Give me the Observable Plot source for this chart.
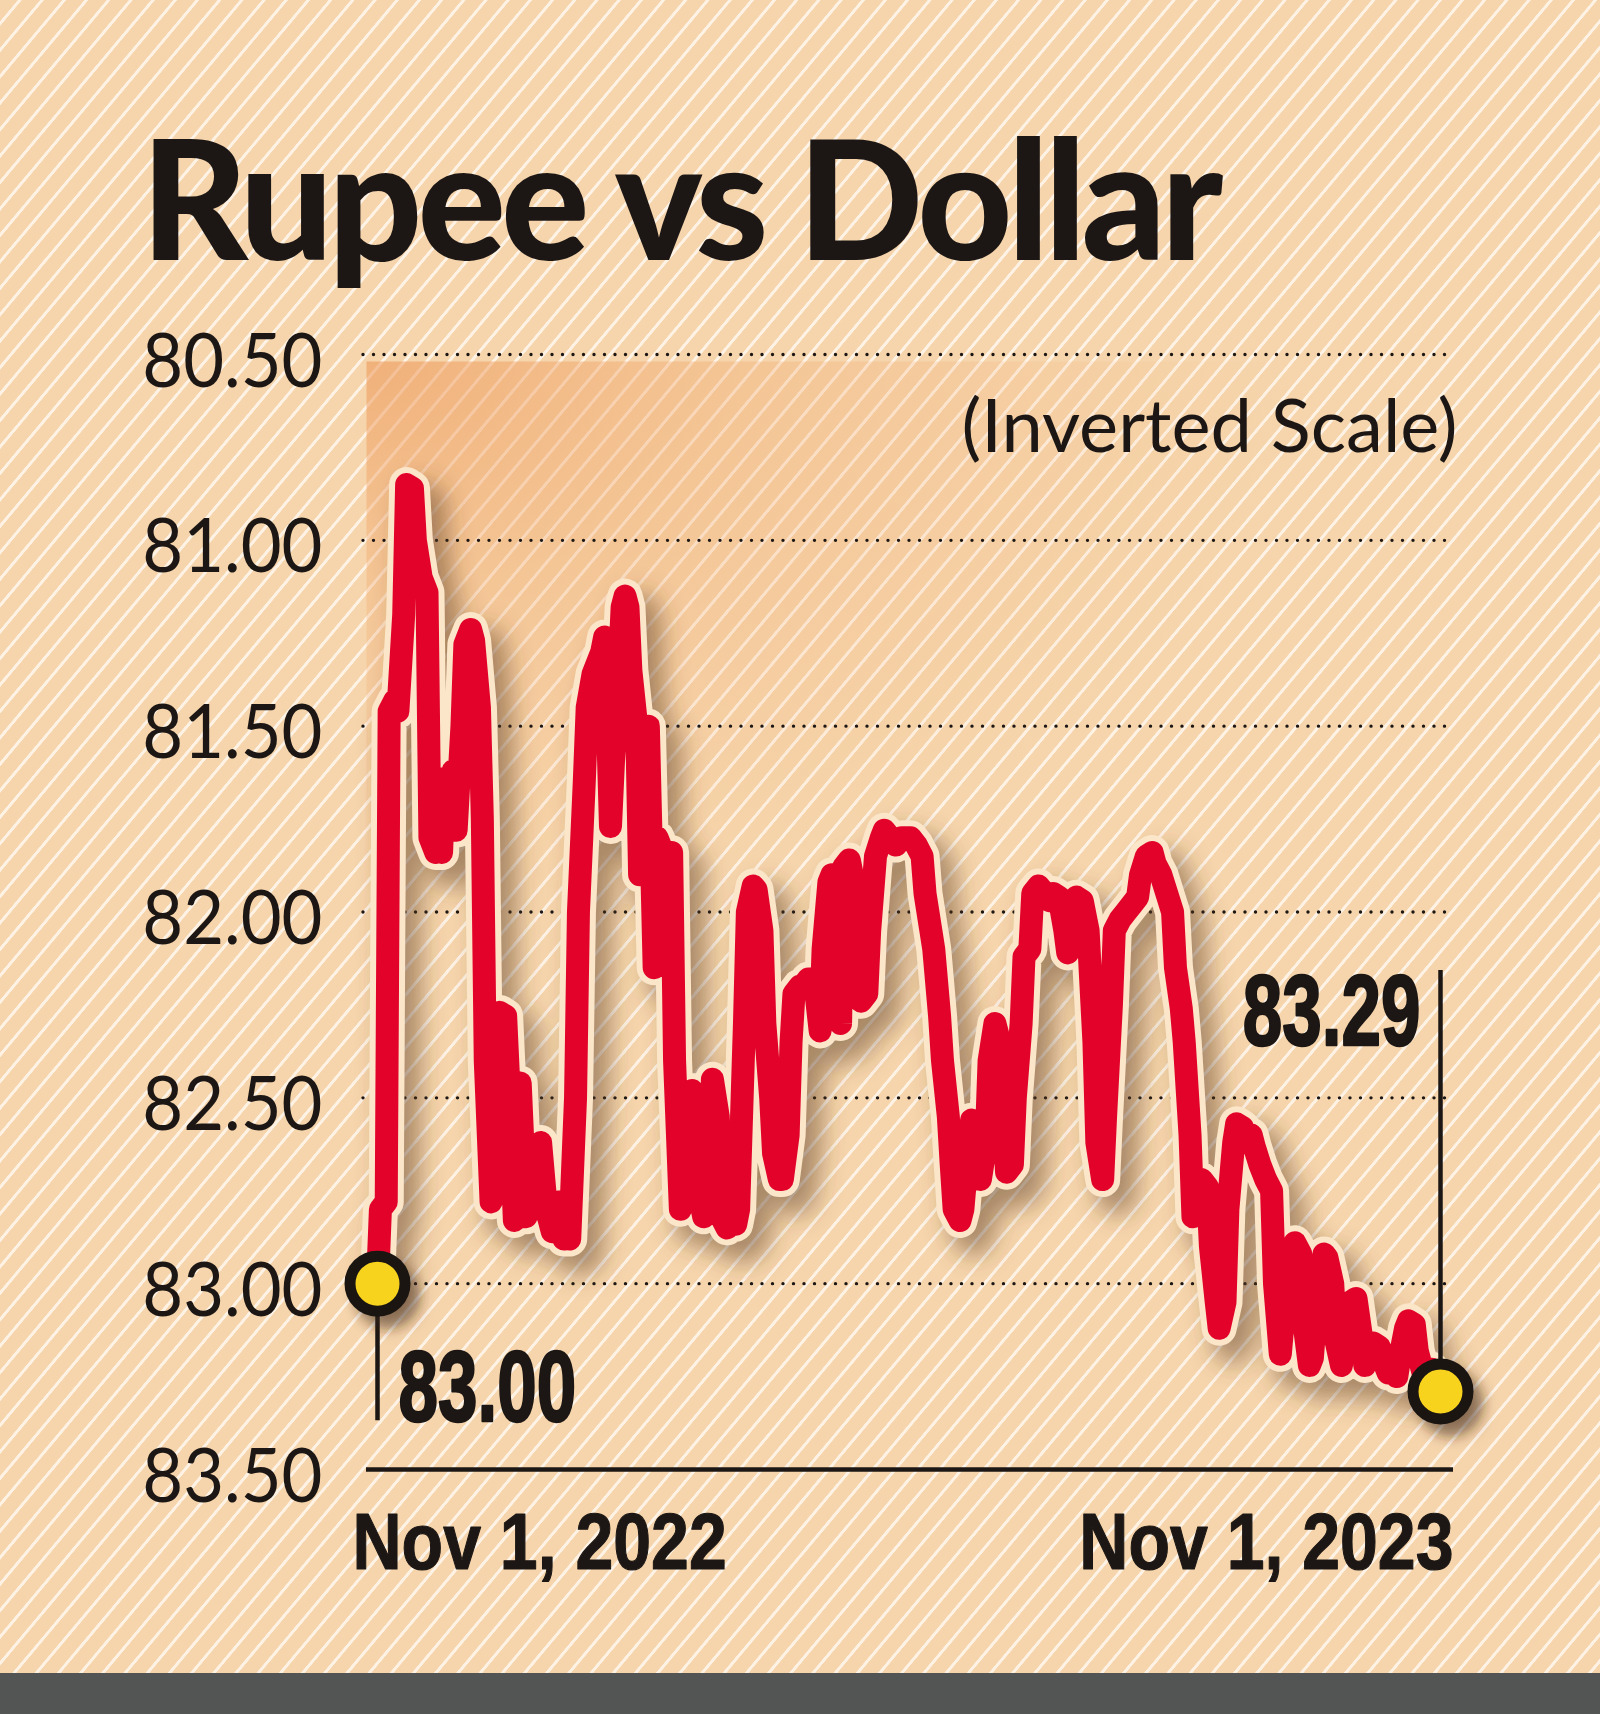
<!DOCTYPE html>
<html>
<head>
<meta charset="utf-8">
<script src="https://cdn.jsdelivr.net/npm/d3@7"></script>
<script src="https://cdn.jsdelivr.net/npm/@observablehq/plot@0.6"></script>
<style>
  html, body { margin: 0; padding: 0; }
  body {
    width: 1600px; height: 1714px; overflow: hidden; position: relative;
    background-color: #f6d5ac;
    background-image: repeating-linear-gradient(130deg,
      rgba(255,255,255,0) 0px, rgba(255,255,255,0) 13.5px,
      rgba(255,247,238,0.85) 14px, rgba(255,247,238,0.85) 16.5px,
      rgba(255,255,255,0) 17px);
  }
  #title { display: block; overflow: visible; }
  #chart svg { display: block; overflow: visible; }
  #footer { position: absolute; left: 0; top: 1673px; width: 1600px; height: 41px; background: #535554; }
</style>
</head>
<body>
<svg id="title" width="1600" height="310"></svg>
<div id="chart"></div>
<div id="footer"></div>
<script>
// USD/INR reference rate, Nov 1 2022 – Nov 1 2023 (days after Nov 1 2022)
const startDate = new Date(Date.UTC(2022, 10, 1));
const endDate = new Date(Date.UTC(2023, 10, 1));

const dayOffset = [
  0, 1, 3, 4, 6, 7, 9, 10, 12, 13,
  15, 16, 17, 18, 20, 21, 22, 23, 24, 26,
  27, 29, 30, 32, 33, 35, 36, 37, 39, 40,
  42, 44, 45, 47, 49, 51, 53, 54, 56, 58,
  60, 62, 64, 65, 66, 68, 69, 71, 72, 74,
  75, 77, 78, 79, 80, 81, 83, 84, 85, 86,
  87, 89, 90, 92, 93, 95, 96, 98, 99, 101,
  102, 104, 105, 106, 108, 109, 111, 112, 114, 115,
  117, 118, 120, 121, 123, 124, 126, 127, 129, 130,
  132, 133, 135, 136, 138, 139, 141, 142, 143, 145,
  146, 148, 150, 152, 153, 155, 156, 158, 159, 160,
  162, 163, 165, 166, 168, 169, 171, 173, 174, 176,
  178, 180, 183, 185, 187, 188, 190, 191, 193, 194,
  196, 197, 198, 200, 201, 203, 204, 206, 207, 209,
  210, 212, 213, 215, 216, 218, 219, 221, 222, 224,
  225, 227, 229, 231, 232, 234, 236, 237, 239, 240,
  242, 244, 246, 247, 249, 250, 252, 253, 255, 257,
  259, 261, 262, 264, 266, 267, 269, 271, 273, 274,
  276, 277, 279, 280, 282, 283, 285, 286, 288, 289,
  291, 292, 294, 295, 297, 298, 300, 301, 303, 305,
  307, 308, 310, 311, 313, 315, 317, 318, 320, 321,
  323, 325, 326, 328, 329, 331, 332, 334, 336, 338,
  339, 341, 342, 344, 346, 347, 348, 350, 351, 353,
  354, 356, 357, 359, 360, 362, 363, 365
];

const usdInr = [
  83.00, 82.80, 82.78, 81.46, 81.43, 81.46, 81.20, 80.85, 80.86, 81.00,
  81.10, 81.12, 81.14, 81.80, 81.84, 81.66, 81.84, 81.64, 81.68, 81.62,
  81.78, 81.50, 81.28, 81.24, 81.27, 81.45, 81.75, 82.40, 82.78, 82.50,
  82.27, 82.28, 82.45, 82.83, 82.46, 82.82, 82.64, 82.80, 82.62, 82.80,
  82.86, 82.78, 82.88, 82.85, 82.88, 82.50, 82.00, 81.65, 81.45, 81.36,
  81.34, 81.30, 81.26, 81.50, 81.77, 81.60, 81.35, 81.18, 81.15, 81.18,
  81.35, 81.50, 81.90, 81.52, 81.50, 82.15, 81.80, 81.84, 81.85, 81.84,
  82.40, 82.80, 82.78, 82.55, 82.48, 82.60, 82.78, 82.82, 82.75, 82.45,
  82.55, 82.82, 82.85, 82.80, 82.84, 82.80, 82.30, 82.00, 81.93, 81.94,
  82.05, 82.30, 82.50, 82.65, 82.72, 82.72, 82.60, 82.35, 82.22, 82.20,
  82.20, 82.18, 82.18, 82.32, 82.10, 81.92, 81.90, 81.94, 82.30, 81.88,
  81.86, 81.90, 82.00, 82.24, 82.22, 82.05, 81.85, 81.80, 81.78, 81.80,
  81.82, 81.80, 81.80, 81.82, 81.85, 81.95, 82.05, 82.10, 82.28, 82.40,
  82.55, 82.68, 82.80, 82.83, 82.80, 82.62, 82.56, 82.60, 82.72, 82.62,
  82.40, 82.30, 82.33, 82.55, 82.70, 82.68, 82.50, 82.30, 82.12, 82.10,
  81.95, 81.93, 81.95, 81.97, 81.95, 81.96, 82.05, 82.11, 82.00, 81.96,
  81.97, 82.05, 82.35, 82.62, 82.72, 82.55, 82.25, 82.05, 82.02, 82.00,
  81.98, 81.96, 81.90, 81.85, 81.84, 81.87, 81.90, 81.95, 82.00, 82.15,
  82.26, 82.35, 82.60, 82.82, 82.74, 82.72, 82.74, 82.90, 83.05, 83.12,
  83.05, 82.80, 82.62, 82.57, 82.58, 82.62, 82.60, 82.63, 82.68, 82.72,
  82.75, 83.00, 83.19, 83.10, 82.92, 82.89, 82.92, 83.10, 83.22, 83.20,
  83.00, 82.92, 82.93, 83.00, 83.15, 83.22, 83.12, 83.05, 83.04, 83.15,
  83.22, 83.18, 83.16, 83.17, 83.22, 83.24, 83.22, 83.25, 83.20, 83.12,
  83.10, 83.11, 83.18, 83.24, 83.25, 83.23, 83.26, 83.29
];

const yTicks = [80.5, 81, 81.5, 82, 82.5, 83];
const axisValue = 83.5;
const dateLabels = ["Nov 1, 2022", "Nov 1, 2023"];
const endpointValues = [83.00, 83.29];
const endpointLabels = ["83.00", "83.29"];
const scaleNote = "(Inverted Scale)";
const titleText = "Rupee vs Dollar";

const series = dayOffset.map((d, i) => ({date: d3.utcDay.offset(startDate, d), rate: usdInr[i]}));
const endpoints = [
  {date: startDate, rate: endpointValues[0], label: endpointLabels[0]},
  {date: endDate, rate: endpointValues[1], label: endpointLabels[1]}
];

const ink = "#1c1714";
const W = 1600, H = 1363;
const margin = {top: 44, right: 147, bottom: 204, left: 366};
const yDomain = [80.5, 83.5];
const pxPerUnit = (H - margin.top - margin.bottom) / (yDomain[1] - yDomain[0]);
const lineOpts = {x: "date", y: "rate", strokeLinejoin: "round", strokeLinecap: "round", curve: "linear"};
const boldFont = "Liberation Sans, Arial, sans-serif";

// Title
d3.select("#title").append("text")
  .attr("x", 141).attr("y", 260)
  .attr("font-family", "Lato, Inter, sans-serif")
  .attr("font-weight", 900)
  .attr("font-size", 165)
  .attr("letter-spacing", -5)
  .attr("fill", ink)
  .text(titleText);

const chart = Plot.plot({
  width: W,
  height: H,
  marginTop: margin.top,
  marginRight: margin.right,
  marginBottom: margin.bottom,
  marginLeft: margin.left,
  style: {background: "transparent", overflow: "visible"},
  x: {type: "utc", domain: [startDate, endDate], range: [377, 1440], axis: null},
  y: {domain: yDomain, reverse: true, axis: null},
  marks: [
    Plot.frame({fill: "url(#plotGlow)", stroke: "none", insetTop: 7}),
    Plot.ruleY(yTicks, {stroke: ink, strokeWidth: 3.4, strokeDasharray: "0 10.5", strokeLinecap: "round", insetLeft: -3, insetRight: -2}),
    Plot.ruleY([axisValue], {stroke: ink, strokeWidth: 4.5}),
    Plot.text(yTicks.concat(axisValue), {
      y: d => d, text: d => d.toFixed(2), frameAnchor: "left", textAnchor: "end",
      dx: -44, dy: 8, fontFamily: "Lato, sans-serif", fontSize: 75, fill: ink
    }),
    Plot.text([scaleNote], {
      text: d => d, frameAnchor: "top-right", textAnchor: "end", lineAnchor: "bottom",
      dx: 4, dy: 97, fontFamily: "Lato, sans-serif", fontSize: 74, fill: ink
    }),
    // soft shadow, cream outline, red line
    Plot.line(series, {...lineOpts, stroke: "#5b3b1f", strokeOpacity: 0.5, strokeWidth: 38, dx: 14, dy: 16}),
    Plot.line(series, {...lineOpts, stroke: "#fbe6c9", strokeWidth: 35}),
    Plot.line(series, {...lineOpts, stroke: "#e3032a", strokeWidth: 23}),
    // leader lines to the value callouts
    Plot.ruleX([endpoints[0]], {x: "date", y1: "rate", y2: d => d.rate + 137 / pxPerUnit, stroke: ink, strokeWidth: 4.5}),
    Plot.ruleX([endpoints[1]], {x: "date", y1: d => d.rate - 421 / pxPerUnit, y2: "rate", stroke: ink, strokeWidth: 4.5}),
    // endpoint markers
    Plot.dot(endpoints, {x: "date", y: "rate", r: 33, fill: "#3b2612", fillOpacity: 0.45, stroke: "none", dx: 10, dy: 12}),
    Plot.dot(endpoints, {x: "date", y: "rate", r: 27.5, fill: "#f7d31d", stroke: "#1b1512", strokeWidth: 11}),
    // date labels under the axis
    Plot.text([startDate], {
      x: d => d, text: () => dateLabels[0], frameAnchor: "bottom", textAnchor: "start", lineAnchor: "bottom",
      dx: -25, dy: 99, fontFamily: boldFont, fontWeight: "bold", fontSize: 80, fill: ink, stroke: ink, strokeWidth: 1.2
    }),
    Plot.text([endDate], {
      x: d => d, text: () => dateLabels[1], frameAnchor: "bottom", textAnchor: "end", lineAnchor: "bottom",
      dx: 13, dy: 99, fontFamily: boldFont, fontWeight: "bold", fontSize: 80, fill: ink, stroke: ink, strokeWidth: 1.2
    }),
    // value callouts
    Plot.text([endpoints[0]], {
      x: "date", y: "rate", text: "label", textAnchor: "start", lineAnchor: "bottom",
      dx: 21, dy: 137, fontFamily: boldFont, fontWeight: "bold", fontSize: 100, fill: ink, stroke: ink, strokeWidth: 2.5
    }),
    Plot.text([endpoints[1]], {
      x: "date", y: "rate", text: "label", textAnchor: "end", lineAnchor: "bottom",
      dx: -20, dy: -346, fontFamily: boldFont, fontWeight: "bold", fontSize: 100, fill: ink, stroke: ink, strokeWidth: 2.5
    })
  ]
});

// gradients and blur filters used by the marks above
const svg = d3.select(chart);
const defs = svg.insert("defs", ":first-child");
const glow = defs.append("radialGradient").attr("id", "plotGlow")
  .attr("cx", 0).attr("cy", 0).attr("r", 0.85).attr("fx", 0).attr("fy", 0)
  .attr("gradientTransform", "scale(1,0.6)");
glow.append("stop").attr("offset", 0).attr("stop-color", "#ec9352").attr("stop-opacity", 0.55);
glow.append("stop").attr("offset", 0.45).attr("stop-color", "#f0a262").attr("stop-opacity", 0.28);
glow.append("stop").attr("offset", 1).attr("stop-color", "#f0a262").attr("stop-opacity", 0);
defs.append("filter").attr("id", "softShadow")
  .attr("x", "-20%").attr("y", "-20%").attr("width", "140%").attr("height", "140%")
  .append("feGaussianBlur").attr("stdDeviation", 12);
defs.append("filter").attr("id", "dotShadow")
  .attr("x", "-50%").attr("y", "-50%").attr("width", "200%").attr("height", "200%")
  .append("feGaussianBlur").attr("stdDeviation", 6);

const lineGroups = chart.querySelectorAll('g[aria-label="line"]');
lineGroups[0].setAttribute("filter", "url(#softShadow)");
const dotGroups = chart.querySelectorAll('g[aria-label="dot"]');
dotGroups[0].setAttribute("filter", "url(#dotShadow)");

// horizontal condensing of text groups (anchor point stays fixed)
function condense(group, s) {
  group.querySelectorAll("text").forEach(t => {
    const tr = t.getAttribute("transform");
    if (tr) {
      t.setAttribute("transform", tr + ` scale(${s},1)`);
    } else {
      const x = +t.getAttribute("x") || 0;
      t.removeAttribute("x");
      t.setAttribute("transform", `translate(${x},0) scale(${s},1)`);
    }
  });
}
const textGroups = chart.querySelectorAll('g[aria-label="text"]');
condense(textGroups[0], 0.94);
condense(textGroups[2], 0.85);
condense(textGroups[3], 0.85);
condense(textGroups[4], 0.71);
condense(textGroups[5], 0.71);

document.getElementById("chart").appendChild(chart);
</script>
</body>
</html>
